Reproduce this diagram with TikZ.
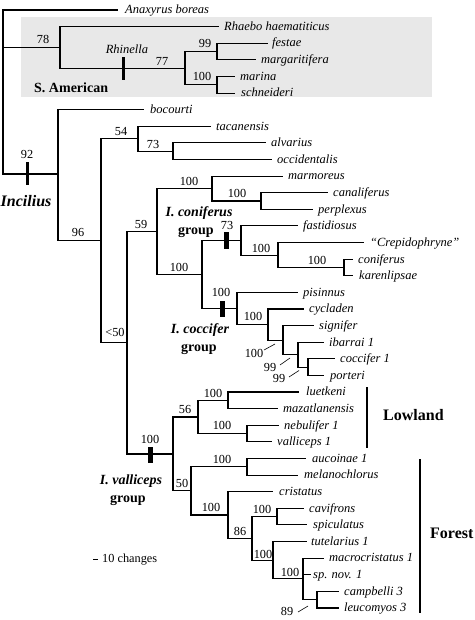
\documentclass[tikz,border=0pt]{standalone}
\usepackage{fontspec}
\setmainfont{Liberation Serif}
\begin{document}
\begin{tikzpicture}[x=1pt,y=-1pt,
  br/.style={line width=1.1pt, line cap=rect},
  rootbr/.style={line width=2pt},
  leaflab/.style={font=\fontsize{12.5}{12.5}\selectfont\itshape, inner sep=0pt, anchor=base west},
  sup/.style={font=\fontsize{12.3}{12.3}\selectfont, inner sep=0pt, anchor=base},
  grpit/.style={font=\fontsize{14}{14}\selectfont\bfseries\itshape, inner sep=0pt, anchor=base},
  grpbf/.style={font=\fontsize{14}{14}\selectfont\bfseries, inner sep=0pt, anchor=base},
  biglab/.style={font=\fontsize{16}{16}\selectfont\bfseries, inner sep=0pt, anchor=base west},
  thinbar/.style={fill=black, draw=none, inner sep=0pt, minimum width=3pt, minimum height=23pt},
  thickbar/.style={fill=black, draw=none, inner sep=0pt, minimum width=5pt, minimum height=17pt},
  leader/.style={line width=0.6pt},
  rangebar/.style={line width=2pt}
]
\useasboundingbox (0,0) rectangle (474,620);
\fill[gray!18] (21,17) rectangle (432,97);

% ---------- internal nodes ----------
\coordinate (R)    at (3,92);
\coordinate (SA)   at (60,47.3);
\coordinate (Rh)   at (185,68.1);
\coordinate (n99)  at (217,51.5);
\coordinate (n100a) at (217,84.7);
\coordinate (Inc)  at (58,174);
\coordinate (n96)  at (101,240.8);
\coordinate (n54)  at (138,138.8);
\coordinate (n73)  at (173,151.2);
\coordinate (nLt)  at (127,342.8);
\coordinate (n59)  at (157,231.6);
\coordinate (nMar) at (212,188.6);
\coordinate (nCan) at (261,201);
\coordinate (nCC)  at (202,274.5);
\coordinate (nCon) at (241,240.5);
\coordinate (nCre) at (278,255.3);
\coordinate (nCk)  at (344,267.5);
\coordinate (nCoc) at (237,308.5);
\coordinate (nCy)  at (268,324.6);
\coordinate (nSi)  at (283,340.1);
\coordinate (nIb)  at (298,354.6);
\coordinate (nCo)  at (308,367.1);
\coordinate (nVal) at (173,454);
\coordinate (n56)  at (198,417);
\coordinate (nLu)  at (228,400.3);
\coordinate (nNe)  at (247,433.6);
\coordinate (n50b) at (191,490.9);
\coordinate (nAu)  at (247,466.8);
\coordinate (nCr)  at (228,515);
\coordinate (n86)  at (252,538.4);
\coordinate (nCav) at (277,516.6);
\coordinate (nTu)  at (273,560.2);
\coordinate (nMa)  at (303,578.9);
\coordinate (n89)  at (317,599.7);

% ---------- leaf tips ----------
\coordinate (l0)  at (118,10);
\coordinate (l1)  at (218,26.6);
\coordinate (l2)  at (267,43.2);
\coordinate (l3)  at (255,59.8);
\coordinate (l4)  at (234,76.4);
\coordinate (l5)  at (234,93.1);
\coordinate (l6)  at (143,109.7);
\coordinate (l7)  at (210,126.3);
\coordinate (l8)  at (265,142.9);
\coordinate (l9)  at (271,159.5);
\coordinate (l10) at (282,176.1);
\coordinate (l11) at (327,192.7);
\coordinate (l12) at (312,209.3);
\coordinate (l13) at (297,225.9);
\coordinate (l14) at (363,242.5);
\coordinate (l15) at (352,259.2);
\coordinate (l16) at (352,275.8);
\coordinate (l17) at (297,292.4);
\coordinate (l18) at (303,309);
\coordinate (l19) at (313,325.6);
\coordinate (l20) at (323,342.2);
\coordinate (l21) at (334,358.8);
\coordinate (l22) at (323,375.4);
\coordinate (l23) at (298,392);
\coordinate (l24) at (277,408.6);
\coordinate (l25) at (278,425.3);
\coordinate (l26) at (271,441.9);
\coordinate (l27) at (305,458.5);
\coordinate (l28) at (297,475.1);
\coordinate (l29) at (272,491.7);
\coordinate (l30) at (303,508.3);
\coordinate (l31) at (306,524.9);
\coordinate (l32) at (306,541.5);
\coordinate (l33) at (323,558.1);
\coordinate (l34) at (310,574.7);
\coordinate (l35) at (338,591.3);
\coordinate (l36) at (338,608);

% ---------- branches ----------
\draw[rootbr] (R) |- (l0);
\draw[rootbr] (R) |- (Inc);
\draw[br] (R) |- (SA);
\draw[br] (SA) |- (l1);
\draw[br] (SA) |- (Rh);
\draw[br] (Rh) |- (n99);
\draw[br] (Rh) |- (n100a);
\draw[br] (n99) |- (l2);
\draw[br] (n99) |- (l3);
\draw[br] (n100a) |- (l4);
\draw[br] (n100a) |- (l5);
\draw[br] (Inc) |- (l6);
\draw[br] (Inc) |- (n96);
\draw[br] (n96) |- (n54);
\draw[br] (n96) |- (nLt);
\draw[br] (n54) |- (l7);
\draw[br] (n54) |- (n73);
\draw[br] (n73) |- (l8);
\draw[br] (n73) |- (l9);
\draw[br] (nLt) |- (n59);
\draw[br] (nLt) |- (nVal);
\draw[br] (n59) |- (nMar);
\draw[br] (n59) |- (nCC);
\draw[br] (nMar) |- (l10);
\draw[br] (nMar) |- (nCan);
\draw[br] (nCan) |- (l11);
\draw[br] (nCan) |- (l12);
\draw[br] (nCC) |- (nCon);
\draw[br] (nCC) |- (nCoc);
\draw[br] (nCon) |- (l13);
\draw[br] (nCon) |- (nCre);
\draw[br] (nCre) |- (l14);
\draw[br] (nCre) |- (nCk);
\draw[br] (nCk) |- (l15);
\draw[br] (nCk) |- (l16);
\draw[br] (nCoc) |- (l17);
\draw[br] (nCoc) |- (nCy);
\draw[br] (nCy) |- (l18);
\draw[br] (nCy) |- (nSi);
\draw[br] (nSi) |- (l19);
\draw[br] (nSi) |- (nIb);
\draw[br] (nIb) |- (l20);
\draw[br] (nIb) |- (nCo);
\draw[br] (nCo) |- (l21);
\draw[br] (nCo) |- (l22);
\draw[br] (nVal) |- (n56);
\draw[br] (nVal) |- (n50b);
\draw[br] (n56) |- (nLu);
\draw[br] (n56) |- (nNe);
\draw[br] (nLu) |- (l23);
\draw[br] (nLu) |- (l24);
\draw[br] (nNe) |- (l25);
\draw[br] (nNe) |- (l26);
\draw[br] (n50b) |- (nAu);
\draw[br] (n50b) |- (nCr);
\draw[br] (nAu) |- (l27);
\draw[br] (nAu) |- (l28);
\draw[br] (nCr) |- (l29);
\draw[br] (nCr) |- (n86);
\draw[br] (n86) |- (nCav);
\draw[br] (n86) |- (nTu);
\draw[br] (nCav) |- (l30);
\draw[br] (nCav) |- (l31);
\draw[br] (nTu) |- (l32);
\draw[br] (nTu) |- (nMa);
\draw[br] (nMa) |- (l33);
\draw[br] (nMa) |- (l34);
\draw[br] (nMa) |- (n89);
\draw[br] (n89) |- (l35);
\draw[br] (n89) |- (l36);

% ---------- leaf labels ----------
\node[leaflab] (t0)  at (125,13.8)  {Anaxyrus boreas};
\node[leaflab] (t1)  at (224,30.4)  {Rhaebo haematiticus};
\node[leaflab] (t2)  at (272,47)    {festae};
\node[leaflab] (t3)  at (261,63.6)  {margaritifera};
\node[leaflab] (t4)  at (240,80.2)  {marina};
\node[leaflab] (t5)  at (241,96.9)  {schneideri};
\node[leaflab] (t6)  at (150,113.5) {bocourti};
\node[leaflab] (t7)  at (216,130.1) {tacanensis};
\node[leaflab] (t8)  at (271,146.7) {alvarius};
\node[leaflab] (t9)  at (277,163.3) {occidentalis};
\node[leaflab] (t10) at (288,179.9) {marmoreus};
\node[leaflab] (t11) at (333,196.5) {canaliferus};
\node[leaflab] (t12) at (318,213.1) {perplexus};
\node[leaflab] (t13) at (303,229.7) {fastidiosus};
\node[leaflab] (t14) at (370,246.3) {``Crepidophryne''};
\node[leaflab] (t15) at (358,263)   {coniferus};
\node[leaflab] (t16) at (359,279.6) {karenlipsae};
\node[leaflab] (t17) at (303,296.2) {pisinnus};
\node[leaflab] (t18) at (309,312.8) {cycladen};
\node[leaflab] (t19) at (319,329.4) {signifer};
\node[leaflab] (t20) at (329,346)   {ibarrai 1};
\node[leaflab] (t21) at (340,362.6) {coccifer 1};
\node[leaflab] (t22) at (330,379.2) {porteri};
\node[leaflab] (t23) at (306,395.8) {luetkeni};
\node[leaflab] (t24) at (283,412.4) {mazatlanensis};
\node[leaflab] (t25) at (284,429.1) {nebulifer 1};
\node[leaflab] (t26) at (277,445.7) {valliceps 1};
\node[leaflab] (t27) at (312,462.3) {aucoinae 1};
\node[leaflab] (t28) at (304,478.9) {melanochlorus};
\node[leaflab] (t29) at (279,495.5) {cristatus};
\node[leaflab] (t30) at (309,512.1) {cavifrons};
\node[leaflab] (t31) at (313,528.7) {spiculatus};
\node[leaflab] (t32) at (311,545.3) {tutelarius 1};
\node[leaflab] (t33) at (329,561.9) {macrocristatus 1};
\node[leaflab] (t34) at (313,578.5) {sp. nov. 1};
\node[leaflab] (t35) at (344,595.1) {campbelli 3};
\node[leaflab] (t36) at (344,611.8) {leucomyos 3};

% ---------- support values ----------
\node[sup] (s78)  at (43,44)    {78};
\node[sup] (s77)  at (162,66)   {77};
\node[sup] (s99a) at (205,47.5) {99};
\node[sup] (s100a) at (202,81)  {100};
\node[sup] (s92)  at (27,159)   {92};
\node[sup] (s96)  at (78,236)   {96};
\node[sup] (s54)  at (121,136)  {54};
\node[sup] (s73a) at (153,148.5) {73};
\node[sup] (s59)  at (141,228.5) {59};
\node[sup] (s100b) at (189,185.5) {100};
\node[sup] (s100c) at (237,197) {100};
\node[sup] (s73b) at (227,229.5)  {73};
\node[sup] (s100d) at (261,252) {100};
\node[sup] (s100e) at (317,264) {100};
\node[sup] (s100f) at (179,271) {100};
\node[sup] (s100g) at (221,296) {100};
\node[sup] (s100h) at (253,320) {100};
\node[sup] (sLt)  at (115,336)  {<50};
\node[sup] (s100i) at (254,357) {100};
\node[sup] (s99b) at (270,371)  {99};
\node[sup] (s99c) at (279,382)  {99};
\node[sup] (s100j) at (150,443) {100};
\node[sup] (s56)  at (185,413)  {56};
\node[sup] (s100k) at (213,397) {100};
\node[sup] (s100l) at (222,429) {100};
\node[sup] (s50)  at (182,487)  {50};
\node[sup] (s100m) at (222,463) {100};
\node[sup] (s100n) at (211,511) {100};
\node[sup] (s86)  at (240,535)  {86};
\node[sup] (s100o) at (262,513) {100};
\node[sup] (s100p) at (263,558) {100};
\node[sup] (s100q) at (290,576) {100};
\node[sup] (s89)  at (287,615)  {89};

% leader lines
\coordinate (a1) at (264,350); \coordinate (b1) at (275,344);
\coordinate (a2) at (280,365); \coordinate (b2) at (290,358);
\coordinate (a3) at (289,377); \coordinate (b3) at (299,370.5);
\coordinate (a4) at (298,612); \coordinate (b4) at (308,606);
\draw[leader] (a1) -- (b1);
\draw[leader] (a2) -- (b2);
\draw[leader] (a3) -- (b3);
\draw[leader] (a4) -- (b4);

% ---------- synapomorphy bars ----------
\node[thinbar] (bRh)  at (123,69) {};
\node[thinbar] (bInc) at (27,173.5) {};
\node[thickbar, minimum height=17pt] (bCon) at (226,240.5) {};
\node[thickbar, minimum height=16pt] (bCoc) at (222,308.5) {};
\node[thickbar, minimum height=16pt] (bVal) at (150,454.5) {};

% ---------- group labels ----------
\node[font=\fontsize{12.5}{12.5}\selectfont\itshape, inner sep=0pt, anchor=base] (gRh) at (127,54) {Rhinella};
\node[font=\fontsize{14}{14}\selectfont\bfseries, inner sep=0pt, anchor=base west] (gSA) at (34,92.5) {S. American};
\node[font=\fontsize{16}{16}\selectfont\bfseries\itshape, inner sep=0pt, anchor=base west] (gInc) at (0.5,206.5) {Incilius};
\node[grpit] (gCon1) at (199,216) {I. coniferus};
\node[grpbf] (gCon2) at (196,234) {group};
\node[grpit] (gCoc1) at (200,333.5) {I. coccifer};
\node[grpbf] (gCoc2) at (199,351) {group};
\node[grpit] (gVal1) at (131,484.5) {I. valliceps};
\node[grpbf] (gVal2) at (128,502) {group};

% habitat bars
\coordinate (lw1) at (367,387); \coordinate (lw2) at (367,448);
\coordinate (fo1) at (420,459); \coordinate (fo2) at (420,613);
\draw[rangebar] (lw1) -- (lw2);
\draw[rangebar] (fo1) -- (fo2);
\node[biglab] (hLow) at (383,420) {Lowland};
\node[biglab] (hFor) at (430,538) {Forest};

% scale
\coordinate (sc1) at (93,559); \coordinate (sc2) at (97.5,559);
\draw[line width=1pt] (sc1) -- (sc2);
\node[leaflab, font=\fontsize{12.3}{12.3}\selectfont] (scl) at (102,562.5) {10 changes};
\end{tikzpicture}
\end{document}
